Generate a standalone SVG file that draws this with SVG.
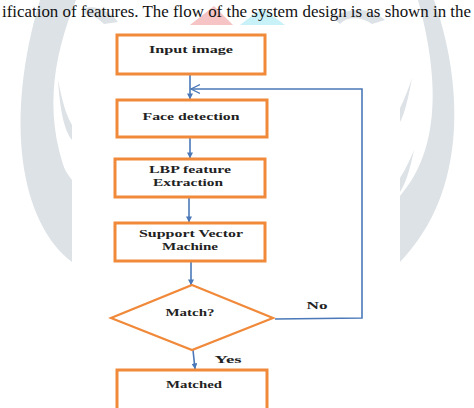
<svg xmlns="http://www.w3.org/2000/svg" width="474" height="408" viewBox="0 0 474 408">
<style>
.box{fill:#fff;stroke:#f0893a;stroke-width:3}
.dia{fill:#fff;stroke:#f0893a;stroke-width:2.2}
.lbl{font-family:"Liberation Serif",serif;font-weight:bold;font-size:10.5px;fill:#222;text-anchor:middle}
.conn{fill:none;stroke:#4a78b8;stroke-width:1.6}
.wm{fill:#dde2e6}
</style>
<defs>
<marker id="ah" viewBox="0 0 8 8" refX="7.5" refY="4" markerWidth="6" markerHeight="6" markerUnits="userSpaceOnUse" orient="auto">
<path d="M0,0 L8,4 L0,8 Z" fill="#4a78b8"/>
</marker>
<marker id="oh" viewBox="0 0 10 10" refX="9" refY="5" markerWidth="10" markerHeight="10" markerUnits="userSpaceOnUse" orient="auto">
<path d="M0,0.5 L9,5 L0,9.5" fill="none" stroke="#4a78b8" stroke-width="1.2"/>
</marker>
</defs>
<rect width="474" height="408" fill="#fff"/>
<g id="watermark">
<path class="wm" d="M40 0 L76 0 C52 60 42 120 72 188 L72 262 C20 222 4 120 40 0 Z"/>
<path class="wm" d="M58 80 C60 110 64 130 72 140 L72 125 C66 115 62 100 58 80 Z"/>
<path class="wm" d="M56 150 C58 170 64 185 72 195 L72 180 C66 172 60 162 56 150 Z"/>
<path class="wm" d="M85 8 C95 5 110 10 118 22 L104 24 C98 18 92 15 85 14 Z"/>
<path class="wm" d="M418 0 L434 0 C462 80 470 190 400 262 L400 196 C440 150 440 80 418 0 Z"/>
<path class="wm" d="M412 78 C408 100 404 115 400 122 L400 108 C404 100 408 90 412 78 Z"/>
<path class="wm" d="M414 150 C410 170 405 185 400 192 L400 178 C405 170 410 160 414 150 Z"/>
<path class="wm" d="M333 18 C345 8 370 6 385 20 L372 24 C362 17 348 16 340 24 Z"/>
<path d="M190 25 L214 6 L233 25 Z" fill="#f6c4c4"/>
<path d="M240 25 L262 8 L285 25 Z" fill="#c9f1f8"/>
</g>
<text x="2" y="17" font-family="'Liberation Serif',serif" font-size="17" fill="#111" textLength="469" lengthAdjust="spacingAndGlyphs">ification of features. The flow of the system design is as shown in the</text>
<g id="connectors">
<line class="conn" x1="190" y1="74" x2="190" y2="99" marker-end="url(#ah)"/>
<polyline class="conn" points="275,319 362,318 362,89 191,89" marker-end="url(#oh)"/>
<line class="conn" x1="190" y1="138" x2="190" y2="158" marker-end="url(#ah)"/>
<line class="conn" x1="189" y1="198" x2="189" y2="222" marker-end="url(#ah)"/>
<line class="conn" x1="191" y1="262" x2="191" y2="285" marker-end="url(#ah)"/>
<line class="conn" x1="193" y1="350" x2="195" y2="369" marker-end="url(#ah)"/>
</g>
<g id="input-image">
<rect class="box" x="117" y="35" width="148" height="39"/>
<text class="lbl" x="191" y="53" textLength="84" lengthAdjust="spacingAndGlyphs">Input image</text>
</g>
<g id="face-detection">
<rect class="box" x="117" y="100" width="150" height="37"/>
<text class="lbl" x="191" y="120" textLength="97" lengthAdjust="spacingAndGlyphs">Face detection</text>
</g>
<g id="lbp">
<rect class="box" x="115" y="159" width="150" height="38"/>
<text class="lbl" x="190" y="173" textLength="82" lengthAdjust="spacingAndGlyphs">LBP feature</text>
<text class="lbl" x="188" y="186" textLength="70" lengthAdjust="spacingAndGlyphs">Extraction</text>
</g>
<g id="svm">
<rect class="box" x="115" y="223" width="150" height="38"/>
<text class="lbl" x="191" y="237" textLength="104" lengthAdjust="spacingAndGlyphs">Support Vector</text>
<text class="lbl" x="190" y="250" textLength="56" lengthAdjust="spacingAndGlyphs">Machine</text>
</g>
<g id="match">
<polygon class="dia" points="192,285 273,318 192,350 111,318"/>
<text class="lbl" x="190" y="316" textLength="49" lengthAdjust="spacingAndGlyphs">Match?</text>
</g>
<g id="matched">
<rect class="box" x="117" y="370" width="150" height="45"/>
<text class="lbl" x="194" y="388" textLength="56" lengthAdjust="spacingAndGlyphs">Matched</text>
</g>
<text class="lbl" x="317" y="309" textLength="21" lengthAdjust="spacingAndGlyphs">No</text>
<text class="lbl" x="228" y="363" textLength="27" lengthAdjust="spacingAndGlyphs">Yes</text>
</svg>
